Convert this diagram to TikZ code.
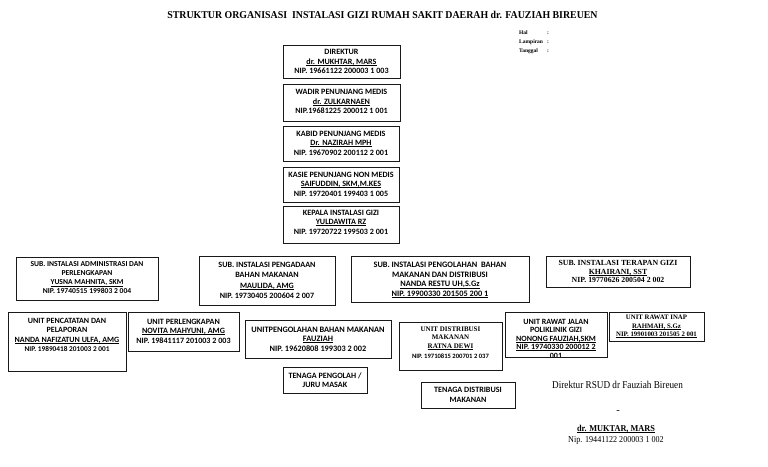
\documentclass[tikz,border=0pt]{standalone}
\usepackage{fontspec}
\setmainfont{Liberation Serif}
\newfontfamily\calib{Carlito}
\newfontfamily\serifb{Liberation Serif}
\usetikzlibrary{fit}
\newcommand\myul[1]{\setbox0\hbox{#1}\rlap{\rule[-1.3pt]{\wd0}{0.55pt}}\box0}
\begin{document}
\begin{tikzpicture}[x=1pt,y=-1pt,
  box/.style={draw=black!90, line width=1pt, inner sep=0pt},
  ct/.style={align=center, inner sep=0pt, font=\calib\bfseries\fontsize{8.1}{9.4}\selectfont},
  cts/.style={align=center, inner sep=0pt, font=\calib\bfseries\fontsize{7.6}{9}\selectfont},
  st/.style={align=center, inner sep=0pt, font=\serifb\bfseries\fontsize{7}{8.5}\selectfont},
  hal/.style={anchor=west, inner sep=0pt, font=\serifb\bfseries\fontsize{5.5}{6}\selectfont},
  sig/.style={inner sep=0pt, font=\serifb\fontsize{10.5}{11}\selectfont}]
\useasboundingbox (0,0) rectangle (768,466);
\fill[white] (0,0) rectangle (768,466);

% title
\node[inner sep=0pt, font=\serifb\bfseries\fontsize{10.5}{11}\selectfont] (title) at (382.5,15)
  {\scalebox{0.94}[1]{STRUKTUR ORGANISASI\ \ INSTALASI GIZI RUMAH SAKIT DAERAH dr. FAUZIAH BIREUEN}};
\node[hal] (hal) at (519,33) {Hal};
\node[hal] (lamp) at (519,42) {Lampiran};
\node[hal] (tgl) at (519,51) {Tanggal};
\node[hal] (c1) at (547,33) {:};
\node[hal] (c2) at (547,42) {:};
\node[hal] (c3) at (547,51) {:};

% top column
\node[box, fit={(283,45) (400,78)}] (dir) {};
\node[ct] (dirT) at (341.5,61.5) {DIREKTUR\\\myul{dr. MUKHTAR, MARS}\\NIP. 19661122 200003 1 003};
\node[box, fit={(283,84) (400,121)}] (wadir) {};
\node[ct] (wadirT) at (341.5,101.5) {WADIR PENUNJANG MEDIS\\\myul{dr. ZULKARNAEN}\\NIP.19681225 200012 1 001};
\node[box, fit={(283,126) (399,161)}] (kabid) {};
\node[ct] (kabidT) at (341,143) {KABID PENUNJANG MEDIS\\\myul{Dr. NAZIRAH MPH}\\NIP. 19670902 200112 2 001};
\node[box, fit={(283,167) (399,202)}] (kasie) {};
\node[ct] (kasieT) at (341,184) {KASIE PENUNJANG NON MEDIS\\\myul{SAIFUDDIN, SKM,M.KES}\\NIP. 19720401 199403 1 005};
\node[box, fit={(283,206) (399,243)}] (kepala) {};
\node[ct] (kepalaT) at (341,222) {KEPALA INSTALASI GIZI\\\myul{YULDAWITA RZ}\\NIP. 19720722 199503 2 001};

% sub installations
\node[box, fit={(16,257) (158,300)}] (subadm) {};
\node[cts] (subadmT) at (87,278) {SUB. INSTALASI ADMINISTRASI DAN\\PERLENGKAPAN\\\myul{YUSNA MAHNITA, SKM}\\NIP. 19740515 199803 2 004};
\node[box, fit={(199,256) (335,305)}] (subpeng) {};
\node[ct, font=\calib\bfseries\fontsize{8.1}{10.3}\selectfont] (subpengT) at (267,280.5) {SUB. INSTALASI PENGADAAN\\BAHAN MAKANAN\\\myul{MAULIDA, AMG}\\NIP. 19730405 200604 2 007};
\node[box, fit={(351,256) (529,302)}] (subolah) {};
\node[ct, font=\calib\bfseries\fontsize{8.3}{9.7}\selectfont] (subolahT) at (440,280) {SUB. INSTALASI PENGOLAHAN\ \ BAHAN\\MAKANAN DAN DISTRIBUSI\\\myul{NANDA RESTU UH,S.Gz}\\\myul{NIP. 19900330 201505 200 1}};
\node[box, fit={(546,256) (690,287)}] (subter) {};
\node[st, font=\serifb\bfseries\fontsize{7.8}{8.5}\selectfont] (subterT) at (618,271.5) {SUB. INSTALASI TERAPAN GIZI\\\myul{KHAIRANI, SST}\\NIP. 19770626 200504 2 002};

% units
\node[box, fit={(8,312) (126,371)}] (ucatat) {};
\node[ct, font=\calib\bfseries\fontsize{8}{9.4}\selectfont] (ucatatT) at (67,335) {UNIT PENCATATAN DAN\\PELAPORAN\\\myul{NANDA NAFIZATUN ULFA, AMG}\\{\fontsize{7.3}{9.4}\selectfont NIP. 19890418 201003 2 001}};
\node[box, fit={(128,312) (239,351)}] (ulengkap) {};
\node[ct] (ulengkapT) at (183.5,331) {UNIT PERLENGKAPAN\\\myul{NOVITA MAHYUNI, AMG}\\NIP. 19841117 201003 2 003};
\node[box, fit={(245,320) (391,358)}] (uolah) {};
\node[ct, font=\calib\bfseries\fontsize{8.3}{9.6}\selectfont] (uolahT) at (318,339) {UNITPENGOLAHAN BAHAN MAKANAN\\\myul{FAUZIAH}\\NIP. 19620808 199303 2 002};
\node[box, fit={(399,322) (502,370)}] (udist) {};
\node[st] (udistT) at (450.5,338) {UNIT DISTRIBUSI\\MAKANAN\\\myul{RATNA DEWI}};
\node[cts, font=\calib\bfseries\fontsize{6.6}{7}\selectfont] (udistN) at (450.5,356) {NIP. 19710815 200701 2 037};
\begin{scope}
  \clip (505,312) rectangle (607,357);
  \node[ct, font=\calib\bfseries\fontsize{8}{8.5}\selectfont] (ujalanT) at (556,338.5) {UNIT RAWAT JALAN\\POLIKLINIK GIZI\\\myul{NONONG FAUZIAH,SKM}\\\myul{NIP. 19740330 200012 2}\\001};
\end{scope}
\node[box, fit={(505,312) (607,357)}] (ujalan) {};
\node[box, fit={(609,312) (704,341)}] (uinap) {};
\node[st, font=\serifb\bfseries\fontsize{6.8}{8.5}\selectfont] (uinapT) at (656.5,326.5) {UNIT RAWAT INAP\\\myul{RAHMAH, S.Gz}\\\myul{NIP. 19901003 201505 2 001}};

% staff
\node[box, fit={(283,367) (367,393)}] (tpeng) {};
\node[ct] (tpengT) at (325,380) {TENAGA PENGOLAH /\\JURU MASAK};
\node[box, fit={(421,382) (515,408)}] (tdist) {};
\node[ct] (tdistT) at (468,395) {TENAGA DISTRIBUSI\\MAKANAN};

% signature
\node[sig, anchor=west] (sigA) at (552,385) {\scalebox{0.875}[1]{Direktur RSUD dr Fauziah Bireuen}};
\node[sig] (sigDash) at (618,412) {-};
\node[inner sep=0pt, font=\serifb\bfseries\fontsize{9}{10}\selectfont] (sigB) at (616,429) {\scalebox{0.92}[1]{\myul{dr. MUKTAR, MARS}}};
\node[inner sep=0pt, font=\serifb\fontsize{9}{10}\selectfont] (sigC) at (616,440) {\scalebox{0.9}[1]{Nip. 19441122 200003 1 002}};
\end{tikzpicture}
\end{document}
